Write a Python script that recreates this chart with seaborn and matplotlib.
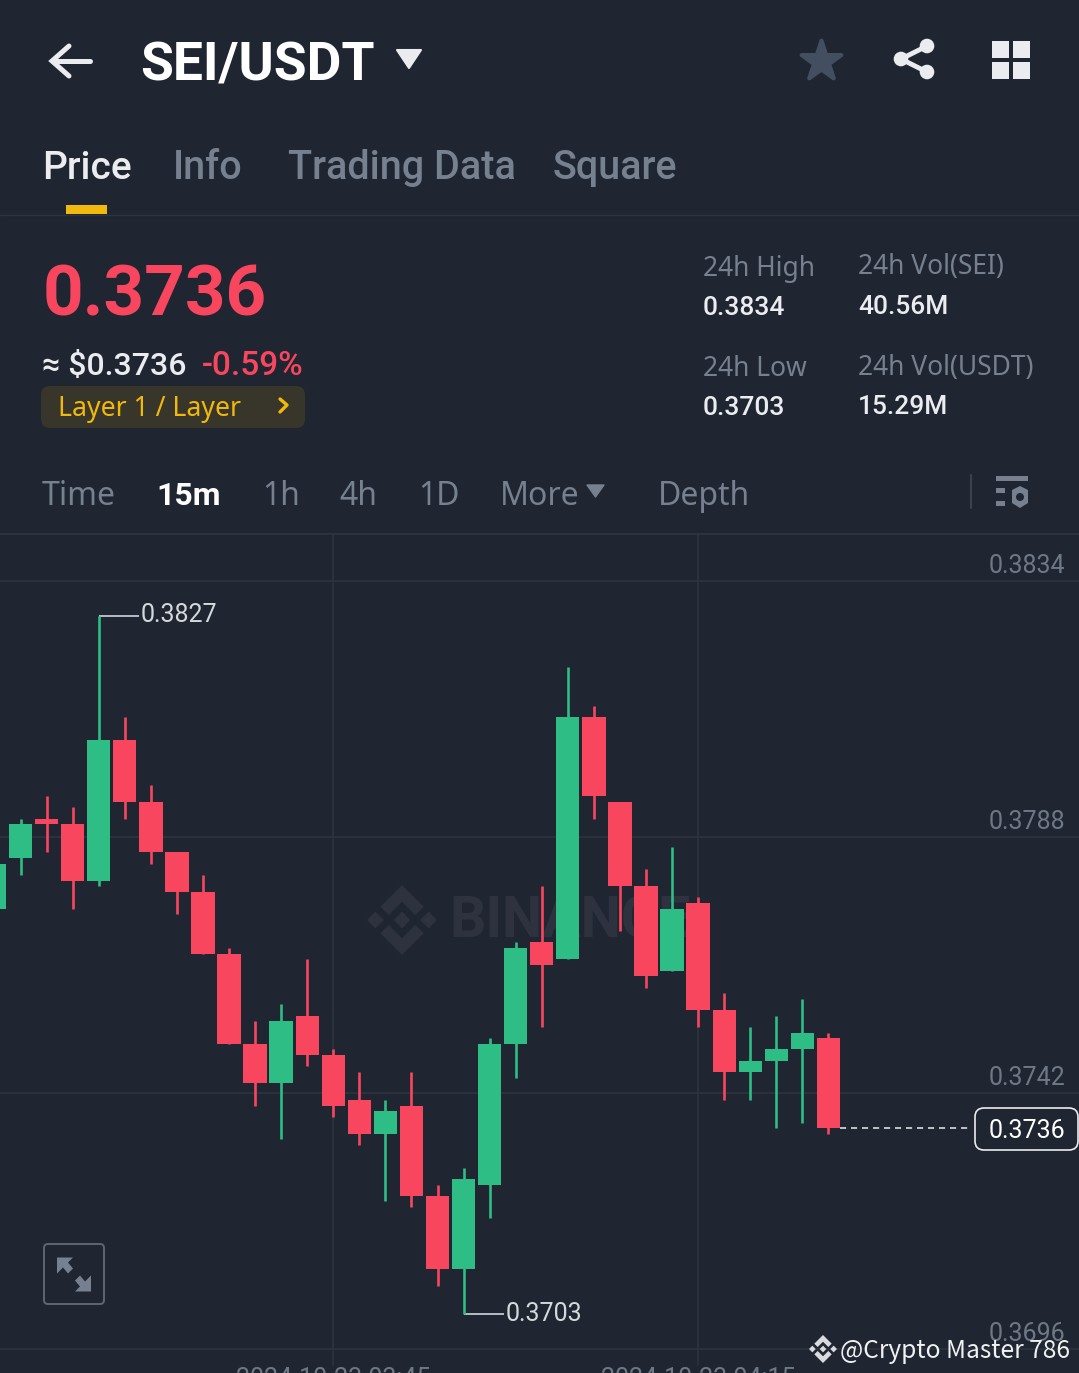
import numpy as np
import pandas as pd
import seaborn as sns
import matplotlib
matplotlib.use("Agg")
import matplotlib.pyplot as plt
from matplotlib.patches import FancyBboxPatch, Polygon, Rectangle, Circle
from matplotlib.transforms import ScaledTranslation

# ---------- data ----------
opens  = [.3775,.3784,.3791,.3790,.3780,.3805,.3794,.3785,.3778,.3767,.3751,.3744,.3756,.3749,.3741,.3735,.3740,
          .3724,.3711,.3726,.3751,.3769,.3766,.3809,.3794,.3779,.3764,.3776,.3757,.3746,.3748,.3750,.3752]
closes = [.3783,.3790,.3790,.3780,.3805,.3794,.3785,.3778,.3767,.3751,.3744,.3755,.3749,.3740,.3735,.3739,.3724,
          .3711,.3727,.3751,.3768,.3765,.3809,.3795,.3779,.3763,.3775,.3757,.3746,.3748,.3750,.3753,.3736]
highs  = [.3785,.3791,.3795,.3793,.3827,.3809,.3797,.3785,.3781,.3768,.3755,.3758,.3766,.3750,.3746,.3741,.3746,
          .3726,.3729,.3752,.3769,.3779,.3818,.3811,.3794,.3782,.3786,.3777,.3760,.3754,.3756,.3759,.3753]
lows   = [.3773,.3781,.3785,.3775,.3779,.3791,.3783,.3774,.3767,.3751,.3740,.3734,.3747,.3738,.3733,.3723,.3722,
          .3708,.3703,.3720,.3745,.3754,.3766,.3791,.3771,.3761,.3764,.3754,.3741,.3741,.3736,.3737,.3735]
candles = list(range(len(opens)))
price_ticks = [0.38332, 0.37877, 0.37423, 0.36968]
price_labels = ["0.3834", "0.3788", "0.3742", "0.3696"]
time_ticks = [13, 27]
time_labels = ["2024-10-23 03:45", "2024-10-23 04:15"]
last_price = 0.3736
high_mark, low_mark = 4, 18

# ---------- style ----------
W, H = 1079, 1373
BG, GRID = "#1f2631", "#2d3440"
UP, DOWN = "#2ebd85", "#f8465f"
WHITE, GREY, AXIS = "#eaecef", "#76808f", "#6f7886"
sns.set_theme(style="dark", rc={"axes.facecolor": "none", "figure.facecolor": BG})
UI = ["Noto Sans", "DejaVu Sans"]
RB = ["Roboto", "DejaVu Sans"]
plt.rcParams["font.family"] = UI

fig = plt.figure(figsize=(W / 100, H / 100), dpi=100, facecolor=BG)


def px_axes(z):
    a = fig.add_axes([0, 0, 1, 1], zorder=z)
    a.set_xlim(0, W)
    a.set_ylim(H, 0)
    a.axis("off")
    return a


under = px_axes(0)
CHART_TOP = 534
ax = fig.add_axes([0, 0, 1, (H - CHART_TOP) / H], zorder=1)
ui = px_axes(2)

# ---------- candles ----------
PX_PER_CANDLE, PX_PER_PRICE = 26.06, 56290.0
ax.set_xlim(5.5 / PX_PER_CANDLE, (W + 5.5) / PX_PER_CANDLE)
ax.set_ylim(0.3827 - (H - 616) / PX_PER_PRICE, 0.3827 + (616 - CHART_TOP) / PX_PER_PRICE)

df = pd.DataFrame(dict(candle=candles, o=opens, c=closes, h=highs, l=lows))
df["dir"] = np.where(df.c >= df.o, "up", "down")
wicks = df.melt(id_vars=["candle", "dir"], value_vars=["l", "h"], value_name="price").sort_values(["candle", "price"])
pal = {"up": UP, "down": DOWN}
ax.grid(False)
sns.lineplot(data=wicks, x="candle", y="price", hue="dir", units="candle", estimator=None, palette=pal,
             sort=False, legend=False, linewidth=1.9, solid_capstyle="butt", ax=ax, zorder=3)
ax.bar(df.candle, (df.c - df.o).abs(), bottom=df[["o", "c"]].min(axis=1), width=0.895,
       color=df.dir.map(pal), linewidth=0, zorder=4)

# ---------- axes ----------
for s in ax.spines.values():
    s.set_visible(False)
ax.set_xlabel("")
ax.set_ylabel("")
ax.yaxis.tick_right()
ax.set_yticks(price_ticks, price_labels)
ax.tick_params(axis="y", length=0, pad=-10, labelsize=18, labelcolor=AXIS)
shift = ScaledTranslation(0, 2 / 72, fig.dpi_scale_trans)
for t in ax.get_yticklabels():
    t.set_ha("right")
    t.set_va("bottom")
    t.set_family(RB)
    t.set_transform(t.get_transform() + shift)
ax.set_xticks(time_ticks, time_labels)
ax.tick_params(axis="x", length=0, pad=-4, labelsize=18, labelcolor=AXIS)
for t in ax.get_xticklabels():
    t.set_family(RB)
    t.set_va("top")
for v in price_ticks:
    ax.axhline(v, color=GRID, lw=1.2, zorder=1)
for v in time_ticks:
    ax.axvline(v, ymin=8 / (H - CHART_TOP), color=GRID, lw=1.2, zorder=1)

# high / low markers
for idx, val, txt, dy in [(high_mark, highs[high_mark], "0.3827", 1), (low_mark, lows[low_mark], "0.3703", 0)]:
    ax.hlines(val, idx, idx + 1.54, color="#b7bdc6", lw=1.4, zorder=2)
    ax.annotate(txt, xy=(idx, val), xytext=(30, dy), textcoords="offset points", ha="left", va="center",
                color="#d5d8dd", fontsize=18, family=RB, zorder=5)
# last price
ax.hlines(last_price, candles[-1] + 0.45, candles[-1] + 5.35, color=WHITE, lw=1.1, linestyles=(0, (4, 3.2)), zorder=2)

# ---------- helpers ----------


def label(x, y, s, color=WHITE, size=20, weight="normal", fam=UI, ha="left", a=ui, z=5):
    a.text(x, y, s, color=color, fontsize=size, fontweight=weight, family=fam, ha=ha, va="baseline", zorder=z)


def logo(a, cx, cy, r, color, z=1):
    d = 0.24
    for dx, dy in [(0, 0), (-0.76, 0), (0.76, 0)]:
        a.add_patch(Polygon([(cx + (dx + u) * r, cy + v * r) for u, v in [(d, 0), (0, d), (-d, 0), (0, -d)]],
                            fc=color, ec="none", zorder=z))
    for sgn in (-1, 1):
        pts = [(0, 1), (.62, .38), (.38, .14), (0, .52), (-.38, .14), (-.62, .38)]
        a.add_patch(Polygon([(cx + u * r, cy + sgn * v * r) for u, v in pts], fc=color, ec="none", zorder=z))


# ---------- watermark ----------
logo(under, 402, 920, 35, "#2e323e")
label(449, 938, "BINANCE", color="#2e323e", size=41, weight="bold", fam=RB, a=under, z=1)

# ---------- header ----------
ui.plot([53, 90], [61, 61], color=WHITE, lw=3.6, solid_capstyle="round")
ui.plot([69, 52, 69], [46, 61, 76], color=WHITE, lw=3.6, solid_capstyle="round", solid_joinstyle="miter")
label(140, 80, "SEI/USDT", color="white", size=38.5, weight="bold", fam=RB)
ui.add_patch(Polygon([(397, 50), (421, 50), (409, 68)], fc=WHITE, ec=WHITE, lw=1.5, joinstyle="round"))
ui.scatter([820.5], [60.5], marker="*", s=900, color="#434f60", linewidths=3, edgecolors="#434f60")
share = [(927, 46), (901, 59), (927, 72)]
ui.plot(*zip(*share), color=WHITE, lw=3.5)
for p in share:
    ui.add_patch(Circle(p, 7.3, fc=WHITE, ec="none"))
for x0 in (992, 1013):
    for y0 in (41, 62):
        ui.add_patch(Rectangle((x0, y0), 16.5, 17, fc=WHITE, ec="none"))

# tabs
label(42, 179, "Price", size=28, weight="medium", fam=RB)
for x, s in [(173, "Info"), (288, "Trading Data"), (553, "Square")]:
    label(x, 179, s, color=GREY, size=28.5, weight="medium", fam=RB)
ui.add_patch(Rectangle((66, 205), 41, 9, fc="#f0b90b", ec="none"))
ui.plot([0, W], [214.5, 214.5], color=GRID, lw=1)

# price block
label(43, 315, "0.3736", color=DOWN, size=51, weight="bold", fam=RB)
label(42, 375, "≈ $0.3736", size=23, weight="medium", fam=RB)
label(202, 375, "-0.59%", color=DOWN, size=24, weight="medium", fam=RB)
ui.add_patch(FancyBboxPatch((49, 394), 248, 26, boxstyle="round,pad=8,rounding_size=9", fc="#38352a", ec="none"))
label(58, 416, "Layer 1 / Layer", color="#f0b90b", size=19.2)
ui.plot([280, 287, 280], [399, 405, 412], color="#f0b90b", lw=2.4)

# stats
for x, y1, t, y2, v in [(703, 276, "24h High", 315, "0.3834"), (703, 376, "24h Low", 415, "0.3703"),
                        (858, 274, "24h Vol(SEI)", 314, "40.56M"), (858, 375, "24h Vol(USDT)", 414, "15.29M")]:
    label(x, y1, t, color=GREY, size=19)
    label(x, y2, v, size=19, weight="medium", fam=RB)

# interval row
for x, s, c, w, f in [(42, "Time", GREY, "normal", UI), (156, "15m", "white", "bold", RB), (262, "1h", GREY, "normal", UI),
                      (339, "4h", GREY, "normal", UI), (418, "1D", GREY, "normal", UI), (500, "More", GREY, "normal", UI),
                      (658, "Depth", GREY, "normal", UI)]:
    label(x, 505, s, color=c, size=23, weight=w, fam=f)
ui.add_patch(Polygon([(587, 485), (604, 485), (595.5, 497)], fc=GREY, ec=GREY, lw=1, joinstyle="round"))
ui.plot([971, 971], [475, 508], color="#3a424e", lw=1.5)
ui.add_patch(Rectangle((996, 476), 32, 5, fc=GREY, ec="none"))
ui.add_patch(Rectangle((996, 488), 9, 5, fc=GREY, ec="none"))
ui.add_patch(Rectangle((996, 501), 9, 5, fc=GREY, ec="none"))
ui.add_patch(Polygon([(1012, 490), (1020, 486), (1028, 490), (1028, 503), (1020, 508), (1012, 503)], fc=GREY, ec="none"))
ui.add_patch(Circle((1020, 497), 4, fc=BG, ec="none"))
ui.plot([0, W], [CHART_TOP, CHART_TOP], color=GRID, lw=1.4)

# expand button
ui.add_patch(FancyBboxPatch((47, 1247), 54, 54, boxstyle="round,pad=3,rounding_size=4", fc="none", ec="#5e6673", lw=1.4))
for sgn in (1, -1):
    cx, cy = 74, 1274.5
    pts = [(-17, -17), (-1, -17), (-6, -12), (-1, -6), (-6, -1), (-11, -7), (-17, -1)]
    ui.add_patch(Polygon([(cx + sgn * u, cy + sgn * v) for u, v in pts], fc=GREY, ec="none"))

# current price tag
ui.add_patch(FancyBboxPatch((984, 1117), 85, 24, boxstyle="round,pad=9,rounding_size=9", fc=BG, ec=WHITE, lw=1.2))
label(1065, 1138, "0.3736", size=18, fam=RB, ha="right", color="white")

# author mark
logo(ui, 823, 1349, 14, "#d8dadd", z=6)
label(840, 1358, "@Crypto Master 786", size=17.7, color="#f0f1f3", fam=["Noto Sans CJK SC", "DejaVu Sans"], z=6)

fig.savefig("out.png", dpi=100, facecolor=BG)
